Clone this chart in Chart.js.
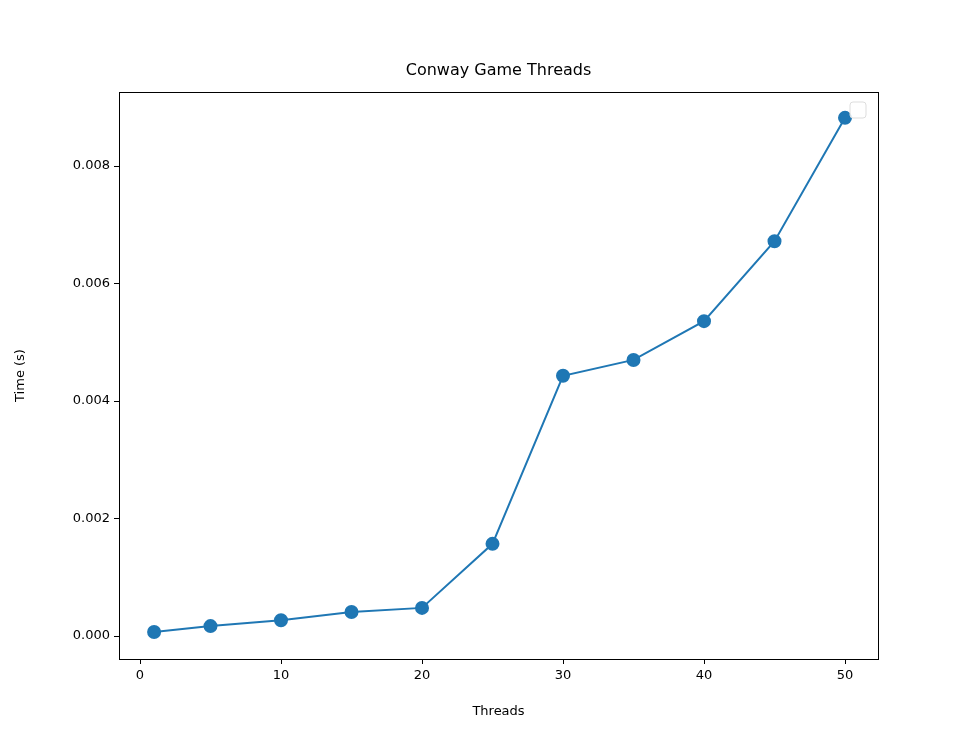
<!DOCTYPE html>
<html>
<head>
<meta charset="utf-8">
<script src="https://cdn.jsdelivr.net/npm/chart.js@4/dist/chart.umd.min.js"></script>
<style>
  html, body { margin: 0; padding: 0; background: #fff; }
</style>
</head>
<body>
<canvas id="chart" width="975" height="731"></canvas>
<script>
const threads = [1, 5, 10, 15, 20, 25, 30, 35, 40, 45, 50];
const times = [0.00007, 0.00017, 0.00027, 0.00041, 0.00048, 0.00157, 0.00443, 0.0047, 0.00536, 0.00672, 0.00882];
const xTicks = [0, 10, 20, 30, 40, 50];
const yTicks = [0, 0.002, 0.004, 0.006, 0.008];

const FONT = "'DejaVu Sans', sans-serif";

// frame, title, axis labels and the empty legend box
const decor = {
  id: "decor",
  afterDraw(chart) {
    const { ctx, chartArea: a } = chart;
    ctx.save();
    ctx.strokeStyle = "#000";
    ctx.lineWidth = 1;
    ctx.strokeRect(a.left + 0.5, a.top + 0.5, a.right - a.left, a.bottom - a.top);
    ctx.fillStyle = "#000";
    ctx.textAlign = "center";
    ctx.textBaseline = "middle";
    ctx.font = "16px " + FONT;
    ctx.fillText("Conway Game Threads", (a.left + a.right) / 2, 71);
    ctx.font = "13px " + FONT;
    ctx.fillText("Threads", (a.left + a.right) / 2, 712);
    ctx.translate(21, (a.top + a.bottom) / 2);
    ctx.rotate(-Math.PI / 2);
    ctx.fillText("Time (s)", 0, 0);
    ctx.restore();
    ctx.save();
    ctx.strokeStyle = "#ddd";
    ctx.fillStyle = "rgba(255,255,255,0.8)";
    ctx.beginPath();
    ctx.roundRect(850, 102, 16, 16, 3);
    ctx.fill();
    ctx.stroke();
    ctx.restore();
  }
};

new Chart(document.getElementById("chart"), {
  type: "line",
  data: {
    datasets: [{
      data: threads.map((t, i) => ({ x: t, y: times[i] })),
      borderColor: "#1f77b4",
      backgroundColor: "#1f77b4",
      borderWidth: 2,
      pointRadius: 6,
      pointHoverRadius: 6,
      tension: 0
    }]
  },
  options: {
    responsive: false,
    animation: false,
    devicePixelRatio: 1,
    layout: { padding: { top: 92, right: 97, left: 0, bottom: 0 } },
    plugins: { legend: { display: false }, tooltip: { enabled: false } },
    scales: {
      x: {
        type: "linear",
        min: -1.49,
        max: 52.34,
        afterBuildTicks: s => { s.ticks = xTicks.map(v => ({ value: v })); },
        afterFit: s => { s.height = 72; },
        grid: { drawOnChartArea: false, drawTicks: true, tickLength: 5, color: "#000" },
        border: { display: false },
        ticks: { color: "#000", font: { family: FONT, size: 13 }, padding: 4, maxRotation: 0 }
      },
      y: {
        min: -0.00039,
        max: 0.00926,
        afterBuildTicks: s => { s.ticks = yTicks.map(v => ({ value: v })); },
        afterFit: s => { s.width = 119; },
        grid: { drawOnChartArea: false, drawTicks: true, tickLength: 5, color: "#000" },
        border: { display: false },
        ticks: { color: "#000", font: { family: FONT, size: 13 }, padding: 4, callback: v => v.toFixed(3) }
      }
    }
  },
  plugins: [decor]
});
</script>
</body>
</html>
